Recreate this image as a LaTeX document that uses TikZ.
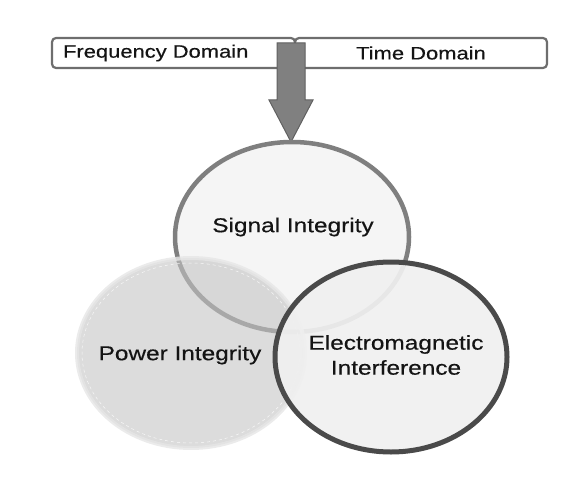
\documentclass[tikz,border=0pt]{standalone}
\usepackage{fontspec}
\setmainfont[FakeStretch=1.22,FakeBold=0.4]{Liberation Sans}
\usetikzlibrary{shapes.geometric}
\definecolor{boxline}{HTML}{6E6E6E}
\definecolor{arrowfill}{HTML}{808080}
\definecolor{arrowline}{HTML}{606060}
\definecolor{siline}{HTML}{7F7F7F}
\definecolor{sifill}{HTML}{F5F5F5}
\definecolor{pifill}{HTML}{C4C4C4}
\definecolor{piline}{HTML}{E6E6E6}
\definecolor{emiline}{HTML}{4A4A4A}
\definecolor{emifill}{HTML}{F0F0F0}
\definecolor{txt}{HTML}{141414}
\tikzset{
  dombox/.style={draw=boxline, line width=2.2pt, rounded corners=4pt, fill=white,
    minimum height=30pt, inner sep=0pt, text=txt, font=\fontsize{18}{20}\selectfont},
  venn/.style={ellipse, inner sep=0pt},
  lbl/.style={text=txt, font=\fontsize{20}{25}\selectfont, align=center, inner sep=0pt}
}
\begin{document}
\begin{tikzpicture}[x=1pt,y=-1pt]
\useasboundingbox (0,0) rectangle (588,486);
% domain boxes
\node[dombox, text width=221pt, inner xsep=11pt, align=left] (fd) at (173.5,53) {Frequency Domain};
\node[dombox, minimum width=252pt] (td) at (421,53) {Time Domain};
% block arrow
\draw[fill=arrowfill, draw=arrowline, line width=1pt]
  (277,43) -- (305,43) -- (305,100) -- (313,100) -- (291,142) -- (269,100) -- (277,100) -- cycle;
% circles
\node[venn, draw=siline, fill=sifill, line width=4.5pt, minimum width=234pt, minimum height=190pt] (si) at (292,237) {};
\node[venn, fill=pifill, fill opacity=0.6, draw=piline, draw opacity=0.8, line width=4pt, minimum width=228pt, minimum height=190pt] (pi) at (191,353) {};
\draw[white, dashed, line width=0.5pt, opacity=0.8] (191,353) ellipse (109pt and 90pt);
\node[venn, draw=emiline, fill=emifill, fill opacity=0.92, line width=5pt, minimum width=232pt, minimum height=190pt] (emi) at (391,357) {};
% labels
\node[lbl] (sil) at (293,227) {Signal Integrity};
\node[lbl] (pil) at (180,355) {Power Integrity};
\node[lbl] (emil) at (396,355) {Electromagnetic\\Interference};
\end{tikzpicture}
\end{document}
